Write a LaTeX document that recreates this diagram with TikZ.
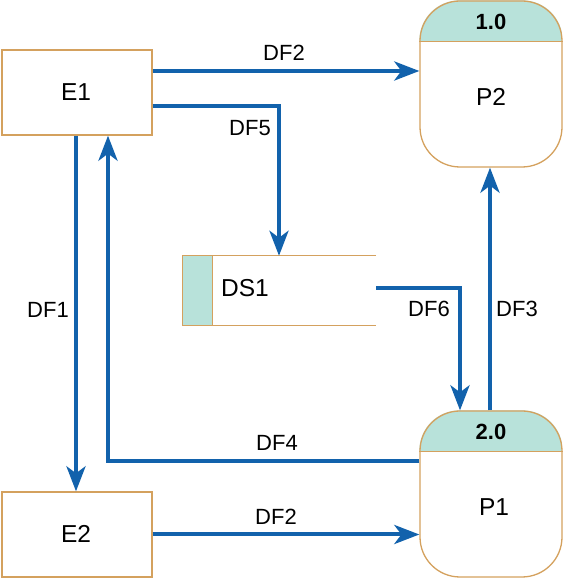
\documentclass[tikz,border=0pt]{standalone}
\usepackage{fontspec}
\setmainfont{Liberation Sans}
\usetikzlibrary{arrows.meta,backgrounds}
\definecolor{flowblue}{HTML}{1262AC}
\definecolor{edgetan}{HTML}{D4A15E}
\definecolor{headteal}{HTML}{B8E2DA}
\tikzset{
  x=1pt,y=1pt,
  ent/.style={draw=edgetan,line width=1.3pt,minimum width=150pt,minimum height=85pt,inner sep=0pt},
  proc/.style={draw=edgetan,line width=1.3pt,rounded corners=40pt,minimum width=142pt,minimum height=166pt,inner sep=0pt},
  store/.style={minimum width=193pt,minimum height=69pt,inner sep=0pt},
  flow/.style={draw=flowblue,line width=4pt,-{Stealth[length=25pt,width=19pt,inset=7pt]}},
  lbl/.style={font=\fontsize{22}{26}\selectfont,inner sep=0pt},
  nm/.style={font=\fontsize{24.5}{29}\selectfont,inner sep=0pt},
  num/.style={font=\fontsize{22}{26}\selectfont\bfseries,inner sep=0pt}
}
\begin{document}
\begin{tikzpicture}
\useasboundingbox (0,0) rectangle (563,578);
% entities
\node[ent] (E1) at (77,485.5) {};
\node[ent] (E2) at (77,43.5) {};
% processes
\node[proc] (P2) at (491,494) {};
\node[proc] (P1) at (491,84) {};
\begin{scope}[on background layer]
  \begin{scope}
    \clip[rounded corners=40pt] (P2.south west) rectangle (P2.north east);
    \fill[headteal] (P2.north west) rectangle ([yshift=-41pt]P2.north east);
  \end{scope}
  \begin{scope}
    \clip[rounded corners=40pt] (P1.south west) rectangle (P1.north east);
    \fill[headteal] (P1.north west) rectangle ([yshift=-41pt]P1.north east);
  \end{scope}
\end{scope}
\draw[edgetan,line width=1.3pt] ([yshift=-41pt]P2.north west) -- ([yshift=-41pt]P2.north east);
\draw[edgetan,line width=1.3pt] ([yshift=-41pt]P1.north west) -- ([yshift=-41pt]P1.north east);
% data store
\node[store] (DS1) at (279.5,287.5) {};
\fill[headteal] (DS1.north west) rectangle ([xshift=30pt]DS1.south west);
\draw[edgetan,line width=1.3pt] (DS1.north east) -- (DS1.north west) -- (DS1.south west) -- (DS1.south east);
\draw[edgetan,line width=1.3pt] ([xshift=30pt]DS1.north west) -- ([xshift=30pt]DS1.south west);
% texts
\node[nm] (tE1) at (76,485.5) {E1};
\node[nm] (tE2) at (76,44.5) {E2};
\node[nm] (tP2) at (491,481) {P2};
\node[num] (nP2) at (491,556) {1.0};
\node[nm] (tP1) at (494,71) {P1};
\node[num] (nP1) at (491,146) {2.0};
\node[nm] (tDS1) at (245,290) {DS1};
% connectors
\coordinate (c2) at (300,507);
\coordinate (c5) at (279,472);
\coordinate (c6) at (460,290);
\coordinate (c4) at (108,117);
\draw[flow] (E1.east |- c2) -- (P2.west |- c2);
\draw[flow] (E1.east |- c5) -- (c5) -- (DS1.north -| c5);
\draw[flow] ([xshift=-1pt]E1.south) -- ([xshift=-1pt]E2.north);
\draw[flow] (P1.west |- c4) -- (c4) -- (E1.south -| c4);
\draw[flow] (DS1.east |- c6) -- (c6) -- (P1.north -| c6);
\draw[flow] ([xshift=-1pt]P1.north) -- ([xshift=-1pt]P2.south);
\draw[flow] (E2.east) -- (P1.west |- E2.east);
% flow labels
\node[lbl] (l2a) at (284,525) {DF2};
\node[lbl] (l5) at (250,450) {DF5};
\node[lbl] (l1) at (48,268) {DF1};
\node[lbl] (l6) at (429,269) {DF6};
\node[lbl] (l3) at (517,269) {DF3};
\node[lbl] (l4) at (277,135) {DF4};
\node[lbl] (l2b) at (276,61) {DF2};
\end{tikzpicture}
\end{document}
